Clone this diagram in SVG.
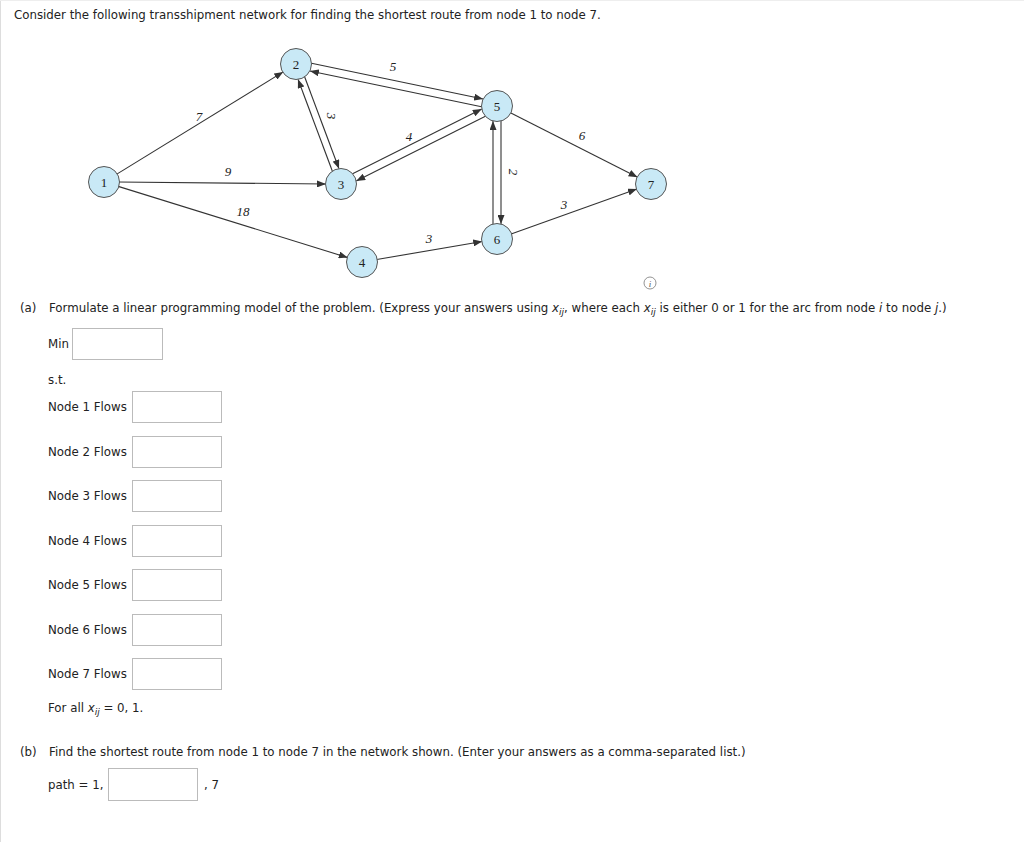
<svg xmlns="http://www.w3.org/2000/svg" width="1024" height="842" viewBox="0 0 1024 842">
<style>
.t{font-family:"DejaVu Sans",Verdana,sans-serif;font-size:11.8px;fill:#222}
.n circle{fill:#c9e9f6;stroke:#555;stroke-width:1}
.n text{font-family:"Liberation Serif",serif;font-size:13px;fill:#222;text-anchor:middle}
.e line{stroke:#333;stroke-width:1.1;marker-end:url(#a)}
.w{font-family:"Liberation Serif",serif;font-size:13px;font-style:italic;fill:#222;text-anchor:middle}
.b{fill:#fff;stroke:#bbb;stroke-width:1}
</style>
<defs><marker id="a" markerUnits="userSpaceOnUse" markerWidth="9" markerHeight="7" refX="9" refY="3.5" orient="auto"><path d="M0,0L9,3.5L0,7z" fill="#333"/></marker></defs>
<rect width="1024" height="842" fill="#fff"/>
<line x1="0.5" y1="0" x2="0.5" y2="842" stroke="#ddd"/>
<line x1="0" y1="0.5" x2="1024" y2="0.5" stroke="#eee"/>
<text class="t" x="14" y="19">Consider the following transshipment network for finding the shortest route from node 1 to node 7.</text>
<g id="connectors" class="e">
<line x1="116.8" y1="174.1" x2="283.2" y2="71.9"/>
<line x1="311.5" y1="63.2" x2="483.1" y2="99"/>
<line x1="481.5" y1="106.8" x2="309.9" y2="71"/>
<line x1="304.6" y1="76.8" x2="339" y2="168.8"/>
<line x1="332.4" y1="171.2" x2="298" y2="79.2"/>
<line x1="352.6" y1="173.7" x2="481.8" y2="109.1"/>
<line x1="485.4" y1="116.3" x2="356.2" y2="180.9"/>
<line x1="501" y1="121" x2="501" y2="224"/>
<line x1="493" y1="224" x2="493" y2="121"/>
<line x1="118" y1="182" x2="326" y2="184"/>
<line x1="117.4" y1="186.1" x2="347.7" y2="257.6"/>
<line x1="376.8" y1="259.5" x2="482.2" y2="241.5"/>
<line x1="510.4" y1="112.8" x2="637.6" y2="177.2"/>
<line x1="511.1" y1="234" x2="636.9" y2="189"/>
</g>
<g id="weights">
<text class="w" x="199" y="121">7</text>
<text class="w" x="393" y="71">5</text>
<text class="w" transform="translate(331,116) rotate(90)" x="0" y="4">3</text>
<text class="w" x="409" y="141">4</text>
<text class="w" x="228" y="176">9</text>
<text class="w" x="243" y="216">18</text>
<text class="w" x="429" y="243">3</text>
<text class="w" transform="translate(513,172) rotate(90)" x="0" y="4">2</text>
<text class="w" x="582" y="140">6</text>
<text class="w" x="564" y="209">3</text>
</g>
<g id="node1" class="n"><circle cx="104" cy="182" r="15.5"/><text x="104" y="186.5">1</text></g>
<g id="node2" class="n"><circle cx="296" cy="64" r="15.5"/><text x="296" y="68.5">2</text></g>
<g id="node3" class="n"><circle cx="341" cy="184" r="15.5"/><text x="341" y="188.5">3</text></g>
<g id="node4" class="n"><circle cx="362" cy="262" r="15.5"/><text x="362" y="266.5">4</text></g>
<g id="node5" class="n"><circle cx="497" cy="106" r="15.5"/><text x="497" y="110.5">5</text></g>
<g id="node6" class="n"><circle cx="497" cy="239" r="15.5"/><text x="497" y="243.5">6</text></g>
<g id="node7" class="n"><circle cx="651" cy="184" r="15.5"/><text x="651" y="188.5">7</text></g>
<circle cx="650" cy="283" r="6" fill="none" stroke="#777" stroke-width="0.8"/>
<text x="650" y="286.5" font-family="Liberation Serif,serif" font-size="9" font-style="italic" text-anchor="middle" fill="#555">i</text>
<text class="t" x="20" y="312">(a)<tspan x="49">Formulate a linear programming model of the problem. (Express your answers using </tspan><tspan font-style="italic">x</tspan><tspan font-style="italic" font-size="9" dy="3">ij</tspan><tspan dy="-3">, where each </tspan><tspan font-style="italic">x</tspan><tspan font-style="italic" font-size="9" dy="3">ij</tspan><tspan dy="-3"> is either 0 or 1 for the arc from node </tspan><tspan font-style="italic">i</tspan> to node <tspan font-style="italic">j</tspan>.)</text>
<text class="t" x="48" y="348">Min</text>
<rect class="b" x="72.5" y="328.5" width="90" height="31"/>
<text class="t" x="48" y="384">s.t.</text>
<text class="t" x="48" y="411">Node 1 Flows</text><rect class="b" x="132.5" y="391.5" width="89" height="31"/>
<text class="t" x="48" y="456">Node 2 Flows</text><rect class="b" x="132.5" y="436.5" width="89" height="31"/>
<text class="t" x="48" y="500">Node 3 Flows</text><rect class="b" x="132.5" y="480.5" width="89" height="31"/>
<text class="t" x="48" y="545">Node 4 Flows</text><rect class="b" x="132.5" y="525.5" width="89" height="31"/>
<text class="t" x="48" y="589">Node 5 Flows</text><rect class="b" x="132.5" y="569.5" width="89" height="31"/>
<text class="t" x="48" y="634">Node 6 Flows</text><rect class="b" x="132.5" y="614.5" width="89" height="31"/>
<text class="t" x="48" y="678">Node 7 Flows</text><rect class="b" x="132.5" y="658.5" width="89" height="31"/>
<text class="t" x="48" y="712">For all <tspan font-style="italic">x</tspan><tspan font-style="italic" font-size="9" dy="3">ij</tspan><tspan dy="-3"> = 0, 1.</tspan></text>
<text class="t" x="20" y="756">(b)<tspan x="49">Find the shortest route from node 1 to node 7 in the network shown. (Enter your answers as a comma-separated list.)</tspan></text>
<text class="t" x="48" y="789">path = 1,</text>
<rect class="b" x="108.5" y="768.5" width="89" height="32"/>
<text class="t" x="204" y="789">, 7</text>
</svg>
